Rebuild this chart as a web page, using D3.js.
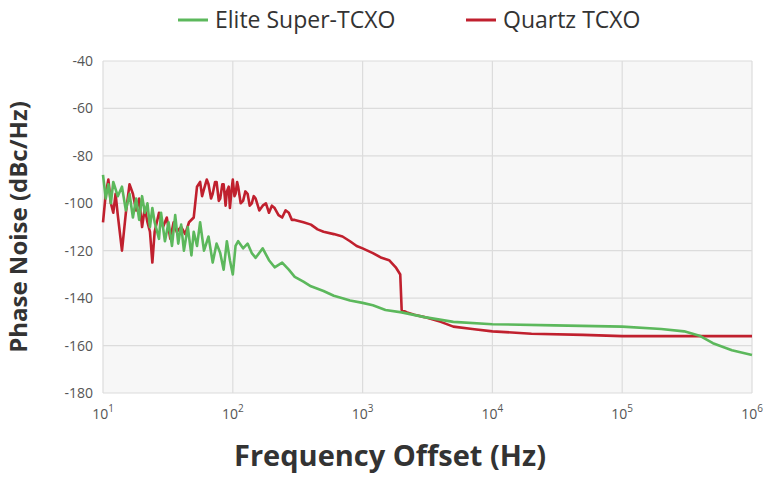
<!DOCTYPE html>
<html><head><meta charset="utf-8">
<script src="https://cdn.jsdelivr.net/npm/d3@7"></script>
<style>body{margin:0;background:#fff;font-family:"Open Sans",sans-serif}</style>
</head><body><svg width="768" height="477"></svg>
<script>
let seriesNames = ["Elite Super-TCXO", "Quartz TCXO"];
let seriesColors = ["#5cb85c", "#c0202e"];
let yTicks = [-40, -60, -80, -100, -120, -140, -160, -180];
let xTicks = [1, 2, 3, 4, 5, 6];

let quartzF = [10,10.5,11,11.5,12,12.5,13,14,15,16,17,18,19,20,21,22,23,24,25,27,29,31,33,35,37,40,43,46,50,53,56,58,60,63,65,68,70,73,75,78,80,83,85,88,90,93,95,98,100,103,105,108,110,115,120,125,130,135,140,145,150,160,170,180,190,200,210,225,240,255,270,285,300,350,400,450,500,600,700,800,900,1000,1200,1400,1600,1800,1950,2000,2200,2500,3000,4000,5000,7000,10000,20000,50000,100000,1e6];
let quartzV = [-108,-96,-90,-100,-104,-96,-105,-120,-104,-92,-96,-103,-98,-110,-102,-108,-112,-125,-112,-104,-110,-106,-115,-108,-112,-110,-113,-108,-106,-93,-91,-97,-94,-90,-92,-98,-96,-91,-91,-99,-98,-92,-92,-101,-95,-93,-102,-94,-90,-97,-96,-91,-93,-100,-99,-95,-96,-101,-100,-97,-98,-103,-101,-100,-104,-101,-102,-105,-106,-103,-104,-107,-107,-108,-109,-111,-112,-113,-114,-116,-118,-119,-121,-123,-124,-127,-130,-145,-146,-147,-148,-150,-152,-153,-154,-155,-155.5,-156,-156];

let eliteF = [10,10.5,11,11.5,12,13,14,15,16,17,18,19,20,21,22,23,24,25,27,28,30,32,34,36,38,40,42,45,48,50,53,56,60,65,70,75,80,85,90,95,100,105,110,120,130,140,150,170,190,210,240,270,300,350,400,500,600,700,800,1000,1200,1500,2000,3000,5000,10000,30000,100000,200000,300000,400000,500000,700000,1e6];
let eliteV = [-88,-98,-92,-100,-91,-97,-93,-103,-96,-106,-98,-107,-97,-104,-100,-110,-102,-108,-115,-104,-116,-108,-118,-105,-117,-109,-120,-110,-122,-112,-118,-108,-120,-114,-125,-117,-121,-128,-116,-124,-130,-118,-116,-119,-117,-121,-123,-119,-124,-127,-125,-128,-131,-133,-135,-137,-139,-140,-141,-142,-143,-145,-146,-148,-150,-151,-151.5,-152,-153,-154,-156,-159,-162,-164];

let svg = d3.select("svg");
let margin = {top: 61, left: 103, right: 16, bottom: 84};
let W = 768, H = 477;
let x = d3.scaleLog().domain([10, 1e6]).range([margin.left, W - margin.right]);
let y = d3.scaleLinear().domain([-180, -40]).range([H - margin.bottom, margin.top]);

svg.append("rect").attr("x", margin.left).attr("y", margin.top)
  .attr("width", x.range()[1] - margin.left).attr("height", y.range()[0] - margin.top)
  .attr("fill", "#f7f7f7");

// grid
svg.append("g").selectAll("line").data(yTicks).enter().append("line")
  .attr("x1", margin.left).attr("x2", x.range()[1])
  .attr("y1", d => y(d)).attr("y2", d => y(d))
  .attr("stroke", "#dcdcdc").attr("stroke-width", 1.2);
svg.append("g").selectAll("line").data(xTicks).enter().append("line")
  .attr("x1", d => x(Math.pow(10, d))).attr("x2", d => x(Math.pow(10, d)))
  .attr("y1", margin.top).attr("y2", y.range()[0])
  .attr("stroke", "#dcdcdc").attr("stroke-width", 1.2);

// y labels
svg.append("g").selectAll("text").data(yTicks).enter().append("text")
  .attr("x", margin.left - 10).attr("y", d => y(d) + 5)
  .attr("text-anchor", "end").attr("font-size", 14).attr("fill", "#555")
  .text(d => d);

// x labels 10^n
let xl = svg.append("g").selectAll("text").data(xTicks).enter().append("text")
  .attr("x", d => x(Math.pow(10, d))).attr("y", y.range()[0] + 26)
  .attr("text-anchor", "middle").attr("font-size", 14).attr("fill", "#555");
xl.append("tspan").text("10");
xl.append("tspan").attr("dy", -7).attr("font-size", 10).text(d => d);

let line = d3.line().x(d => x(d[0])).y(d => y(d[1]));
let elite = eliteF.map((f, i) => [f, eliteV[i]]);
let quartz = quartzF.map((f, i) => [f, quartzV[i]]);

svg.append("path").datum(quartz).attr("d", line).attr("fill", "none")
  .attr("stroke", seriesColors[1]).attr("stroke-width", 2.6).attr("stroke-linejoin", "round");
svg.append("path").datum(elite).attr("d", line).attr("fill", "none")
  .attr("stroke", seriesColors[0]).attr("stroke-width", 2.6).attr("stroke-linejoin", "round");

// legend
let legX = [178, 466];
seriesNames.forEach((n, i) => {
  svg.append("line").attr("x1", legX[i]).attr("x2", legX[i] + 30)
    .attr("y1", 20).attr("y2", 20).attr("stroke", seriesColors[i]).attr("stroke-width", 3);
  svg.append("text").attr("x", legX[i] + 37).attr("y", 28)
    .attr("font-size", 23).attr("fill", "#333").text(n);
});

// axis titles
svg.append("text").attr("x", 390).attr("y", 466)
  .attr("text-anchor", "middle").attr("font-size", 29).attr("font-weight", "bold")
  .attr("fill", "#333").text("Frequency Offset (Hz)");
svg.append("text").attr("transform", "translate(27," + ((margin.top + y.range()[0]) / 2) + ") rotate(-90)")
  .attr("text-anchor", "middle").attr("font-size", 24).attr("font-weight", "bold")
  .attr("fill", "#333").text("Phase Noise (dBc/Hz)");
</script></body></html>
